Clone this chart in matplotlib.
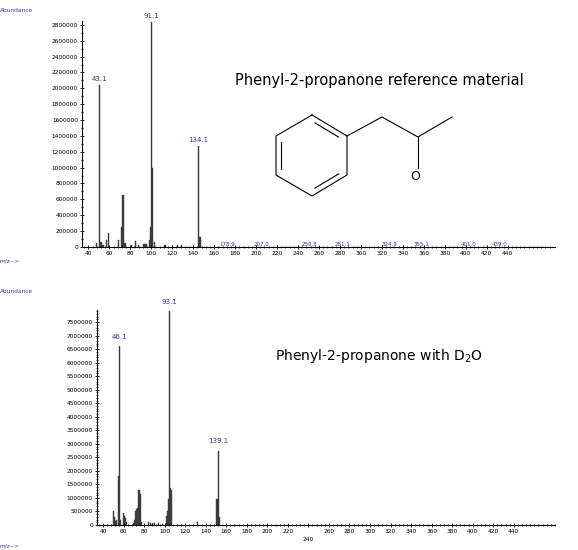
import matplotlib
matplotlib.use("Agg")
import matplotlib.pyplot as plt
from matplotlib.lines import Line2D
import numpy as np

# top spectrum (reference material): positions on the drawn m/z axis, abundances
ref_mz = [48, 50.5, 52, 54, 57, 59, 69, 71.5, 73, 75, 81, 85, 88, 93, 95, 98, 99,
          100, 101.5, 103, 113, 125, 129, 145, 146.5]
ref_ab = [50e3, 2.04e6, 60e3, 30e3, 90e3, 170e3, 90e3, 250e3, 650e3, 50e3, 30e3, 80e3,
          30e3, 40e3, 40e3, 90e3, 250e3, 2.83e6, 1.0e6, 60e3, 20e3, 30e3, 20e3, 1.27e6, 120e3]
ref_peaks = [(50.5, 2.04e6, "43.1"), (100, 2.83e6, "91.1"), (145, 1.27e6, "134.1")]
ref_small = [(172, "178.9"), (205, "207.0"), (251, "250.8"), (282, "281.1"),
             (327, "324.9"), (358, "355.1"), (403, "401.0"), (432, "439.0")]

# bottom spectrum (with D2O)
d2o_mz = [50, 51, 52, 53, 55, 56, 57, 60, 61, 62, 63, 70, 71, 72, 73, 74, 75, 76, 77,
          84, 86, 88, 90, 94, 98, 102, 103, 104, 105, 106, 107, 132, 151, 152.4, 153]
d2o_ab = [500e3, 300e3, 150e3, 200e3, 1.8e6, 6.6e6, 200e3, 450e3, 350e3, 250e3, 100e3,
          80e3, 200e3, 500e3, 600e3, 620e3, 1.3e6, 1.15e6, 100e3, 100e3, 80e3, 90e3, 60e3,
          60e3, 50e3, 350e3, 500e3, 950e3, 7.9e6, 1.35e6, 1.3e6, 100e3, 950e3, 2.75e6, 300e3]
d2o_peaks = [(56, 6.6e6, "46.1"), (105, 7.9e6, "93.1"), (152.4, 2.75e6, "139.1")]

blue = "#3a3aa8"
fig = plt.figure(figsize=(5.78, 5.5), dpi=100)


def style(ax, xlim, ylim, yticks, ytick_step):
    ax.set_xlim(*xlim)
    ax.set_ylim(*ylim)
    for s in ["top", "right"]:
        ax.spines[s].set_visible(False)
    ax.spines["left"].set_linewidth(0.8)
    ax.spines["bottom"].set_linewidth(0.8)
    ax.set_xticks(np.arange(40, 441, 20))
    ax.set_xticks(np.arange(36, 481, 4), minor=True)
    ax.set_yticks(yticks)
    ax.set_yticks(np.arange(0, ylim[1], ytick_step), minor=True)
    ax.tick_params(axis="both", which="major", labelsize=4.2, length=3, width=0.6,
                   direction="inout", pad=1.5)
    ax.tick_params(axis="both", which="minor", length=2, width=0.5, direction="inout")
    ax.set_yticklabels([f"{int(v)}" for v in yticks])


# top panel
ax1 = fig.add_axes([0.142, 0.551, 0.818, 0.411])
ax1.bar(ref_mz, ref_ab, width=1.2, color="#3c3c3c", edgecolor="#3c3c3c", linewidth=0.3)
style(ax1, (34, 485), (0, 2.85e6), np.arange(0, 2.81e6, 2e5), 1e5)
for x, y, t in ref_peaks:
    ax1.text(x, y + 4e4, t, color=blue, fontsize=5, ha="center", va="bottom")
for x, t in ref_small:
    ax1.text(x, 5e3, t, color=blue, fontsize=4, ha="center", va="bottom")
fig.text(0.0, 0.978, "Abundance", color=blue, fontsize=4.2)
fig.text(0.0, 0.522, "m/z-->", color=blue, fontsize=4.2)
fig.text(0.407, 0.845, "Phenyl-2-propanone reference material", fontsize=10.5)

# structure of phenyl-2-propanone, pixel coords
def px(x, y):
    return x / 578, 1 - y / 550

ring = [(312, 115), (347, 136), (347, 175), (312, 196), (276, 175), (276, 136), (312, 115)]
bonds = [ring,
         [(347, 136), (382, 117), (418, 137), (452, 117)],
         [(418, 137), (418, 168)]]
# inner lines of the aromatic double bonds
cx, cy = 311.5, 155.5
for a, b in [(0, 1), (2, 3), (4, 5)]:
    p = np.array(ring[a]); q = np.array(ring[b])
    c = np.array([cx, cy])
    p2 = p + (c - p) * 0.15; q2 = q + (c - q) * 0.15
    d = q2 - p2
    bonds.append([tuple(p2 + d * 0.1), tuple(q2 - d * 0.1)])
for seg in bonds:
    xs, ys = zip(*[px(*pt) for pt in seg])
    fig.add_artist(Line2D(xs, ys, color="black", linewidth=0.8))
fig.text(*px(415, 177), "O", fontsize=9, ha="center", va="center")

# bottom panel
ax2 = fig.add_axes([0.168, 0.0455, 0.792, 0.391])
ax2.bar(d2o_mz, d2o_ab, width=1.2, color="#3c3c3c", edgecolor="#3c3c3c", linewidth=0.3)
style(ax2, (34.3, 470), (0, 7.95e6), np.arange(0, 7.51e6, 5e5), 1e5)
labels = [str(v) if v != 240 else "" for v in range(40, 441, 20)]
ax2.set_xticklabels(labels)
ax2.text(240, -0.055, "240", transform=ax2.get_xaxis_transform(), fontsize=4.2,
         ha="center", va="top")
for x, y, t in d2o_peaks:
    ax2.text(x, y + 2.5e5, t, color=blue, fontsize=5, ha="center", va="bottom")
fig.text(0.0, 0.468, "Abundance", color=blue, fontsize=4.2)
fig.text(0.0, 0.005, "m/z-->", color=blue, fontsize=4.2)
fig.text(0.475, 0.346, "Phenyl-2-propanone with D$_2$O", fontsize=10)

fig.savefig("out.png", dpi=100)
